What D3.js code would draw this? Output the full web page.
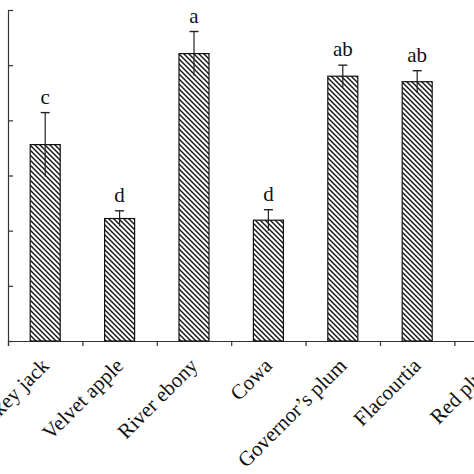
<!DOCTYPE html>
<html>
<head>
<meta charset="utf-8">
<script src="https://cdn.jsdelivr.net/npm/d3@7"></script>
<style>
    html, body { margin: 0; padding: 0; background: #fff; }
    svg { display: block; }
    text { font-family: "Liberation Serif", "DejaVu Serif", serif; fill: #111; }
</style>
</head>
<body>
<svg id="chart" width="474" height="474"></svg>
<script>
// Dades llegides de la figura (la part dreta i l'eix Y queden retallats)
var categories = ["Monkey jack", "Velvet apple", "River ebony", "Cowa", "Governor\u2019s plum", "Flacourtia", "Red plum"];
var means = [3.56, 2.22, 5.21, 2.19, 4.80, 4.70];
var errors = [0.58, 0.14, 0.40, 0.19, 0.20, 0.20];
var letters = ["c", "d", "a", "d", "ab", "ab"];
var yTicks = [0, 1, 2, 3, 4, 5, 6];

var svg = d3.select("#chart");

// Escales: una banda per categoria, els tics de l'eix X cauen entre bandes
var x = d3.scaleLinear().domain([0, categories.length]).range([8, 8 + categories.length * 74.4]);
var y = d3.scaleLinear().domain([0, 6]).range([341, 10]);
var barWidth = 30;

// Patró de ratllat diagonal
var defs = svg.append("defs");
defs.append("pattern")
    .attr("id", "hatch")
    .attr("patternUnits", "userSpaceOnUse")
    .attr("width", 5)
    .attr("height", 5)
    .append("path")
    .attr("d", "M-1,-1 L6,6 M4,-1 L6,1 M-1,4 L1,6")
    .attr("stroke", "#111")
    .attr("stroke-width", 1.4);

// Eix Y amb tics cap a dins, sense etiquetes visibles
var yAxis = svg.append("g")
    .attr("transform", "translate(8,0)")
    .call(d3.axisLeft(y).tickValues(yTicks).tickSize(-5).tickFormat(""));

// Eix X amb tics als límits de cada banda
var xAxis = svg.append("g")
    .attr("transform", "translate(0,341)")
    .call(d3.axisBottom(x).tickValues(d3.range(0, categories.length + 1)).tickSize(5).tickFormat(""));

svg.selectAll(".domain, .tick line")
    .attr("stroke", "#333")
    .attr("stroke-width", 1.2);
yAxis.select(".domain").attr("d", "M0.5," + y(6) + "V" + y(0));

// Barres
var bars = svg.append("g").selectAll("g").data(means).enter().append("g");

bars.append("rect")
    .attr("x", function (d, i) { return x(i + 0.5) - barWidth / 2; })
    .attr("y", function (d) { return y(d); })
    .attr("width", barWidth)
    .attr("height", function (d) { return y(0) - y(d); })
    .attr("fill", "url(#hatch)")
    .attr("stroke", "#111")
    .attr("stroke-width", 1.2);

// Barres d'error (només el capçal superior)
bars.append("line")
    .attr("x1", function (d, i) { return x(i + 0.5); })
    .attr("x2", function (d, i) { return x(i + 0.5); })
    .attr("y1", function (d, i) { return y(d - errors[i]); })
    .attr("y2", function (d, i) { return y(d + errors[i]); })
    .attr("stroke", "#222")
    .attr("stroke-width", 1.2);

bars.append("line")
    .attr("x1", function (d, i) { return x(i + 0.5) - 4.5; })
    .attr("x2", function (d, i) { return x(i + 0.5) + 4.5; })
    .attr("y1", function (d, i) { return y(d + errors[i]); })
    .attr("y2", function (d, i) { return y(d + errors[i]); })
    .attr("stroke", "#222")
    .attr("stroke-width", 1.4);

// Lletres de significació
bars.append("text")
    .attr("x", function (d, i) { return x(i + 0.5); })
    .attr("y", function (d, i) { return y(d + errors[i]) - 9; })
    .attr("text-anchor", "middle")
    .attr("font-size", 21)
    .text(function (d, i) { return letters[i]; });

// Etiquetes de l'eix X inclinades
svg.append("g").selectAll("text").data(categories).enter().append("text")
    .attr("transform", function (d, i) { return "translate(" + (x(i + 0.5) + 5) + ",367) rotate(-45)"; })
    .attr("text-anchor", "end")
    .attr("font-size", 21)
    .text(function (d) { return d; });
</script>
</body>
</html>
